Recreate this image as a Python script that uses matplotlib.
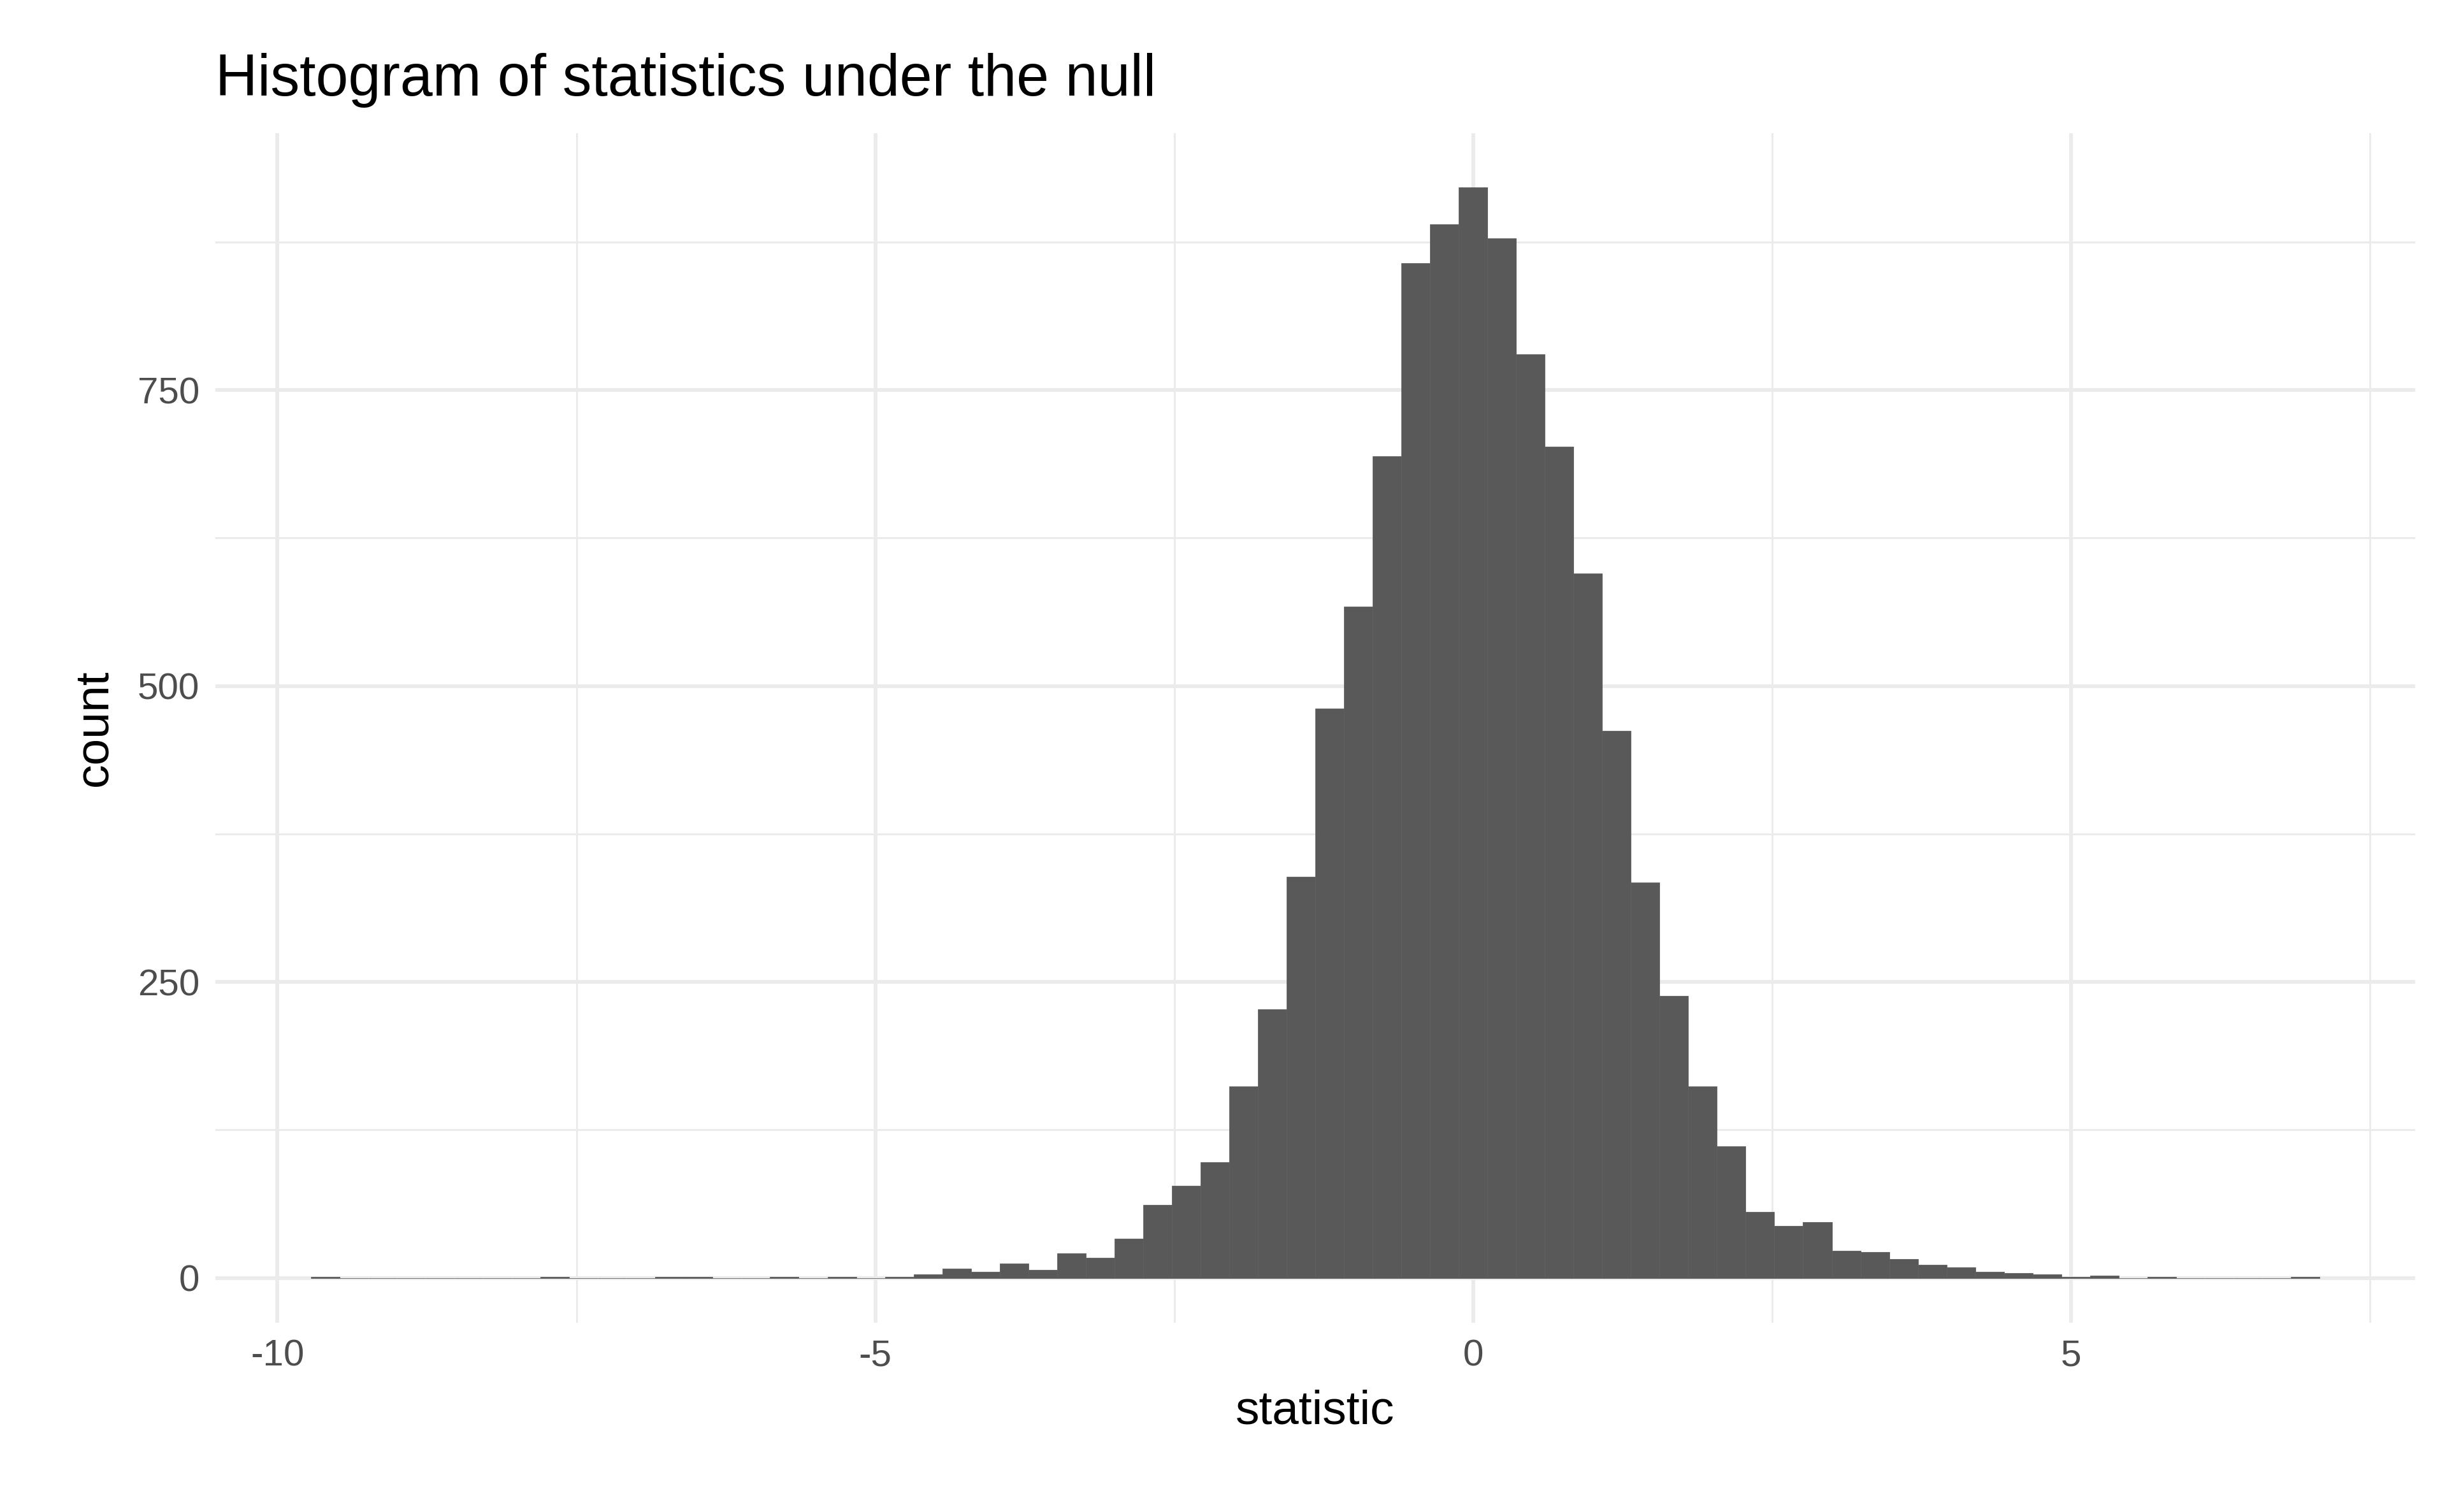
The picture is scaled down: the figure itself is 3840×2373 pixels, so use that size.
import numpy as np
import matplotlib
matplotlib.use("Agg")
import matplotlib.pyplot as plt

# histogram bins (centres = k * binwidth) and counts
binwidth = 0.24
bin_index = np.arange(-40, 30)
counts = np.zeros(len(bin_index))
known = {
    -40: 1, -32: 1, -28: 1, -27: 1, -24: 1, -22: 1,
    -20: 1, -19: 3, -18: 8, -17: 5, -16: 12, -15: 7, -14: 21, -13: 17,
    -12: 33, -11: 62, -10: 78, -9: 98, -8: 162, -7: 227, -6: 339, -5: 481,
    -4: 567, -3: 694, -2: 857, -1: 890, 0: 921, 1: 878, 2: 780, 3: 702,
    4: 595, 5: 462, 6: 334, 7: 238, 8: 162, 9: 111, 10: 56, 11: 44, 12: 47,
    13: 23, 14: 22, 15: 16, 16: 11, 17: 9, 18: 5, 19: 4, 20: 3, 21: 1,
    22: 2, 24: 1, 29: 1,
}
for k, v in known.items():
    counts[bin_index == k] = v
centres = bin_index * binwidth

x_ticks = [-10, -5, 0, 5]
x_minor = [-7.5, -2.5, 2.5, 7.5]
y_ticks = [0, 250, 500, 750]
y_minor = [125, 375, 625, 875]

plt.rcParams["font.family"] = ["Liberation Sans", "DejaVu Sans"]
fig = plt.figure(figsize=(12.8, 7.91), dpi=300)
ax = fig.add_axes([0.088, 0.125, 0.899, 0.787])

for v in x_ticks:
    ax.axvline(v, color="#EBEBEB", lw=1.4, zorder=0)
for v in x_minor:
    ax.axvline(v, color="#EBEBEB", lw=0.7, zorder=0)
for v in y_ticks:
    ax.axhline(v, color="#EBEBEB", lw=1.4, zorder=0)
for v in y_minor:
    ax.axhline(v, color="#EBEBEB", lw=0.7, zorder=0)

ax.bar(centres, counts, width=binwidth, color="#595959",
       edgecolor="#5f5f5f", linewidth=0.2, zorder=2)

ax.set_xlim(-10.52, 7.88)
ax.set_ylim(-38, 967)
ax.set_xticks(x_ticks)
ax.set_xticklabels([str(t) for t in x_ticks])
ax.set_yticks(y_ticks)
for s in ax.spines.values():
    s.set_visible(False)
ax.tick_params(length=0, labelsize=14, labelcolor="#4D4D4D", pad=6)
ax.set_xlabel("statistic", fontsize=18, labelpad=6)
ax.set_ylabel("count", fontsize=18, labelpad=8)
ax.set_title("Histogram of statistics under the null", fontsize=22,
             loc="left", x=0.0, pad=14)
ax.title.set_position((-0.0, 1.0))
fig.savefig("out.png", dpi=300)
